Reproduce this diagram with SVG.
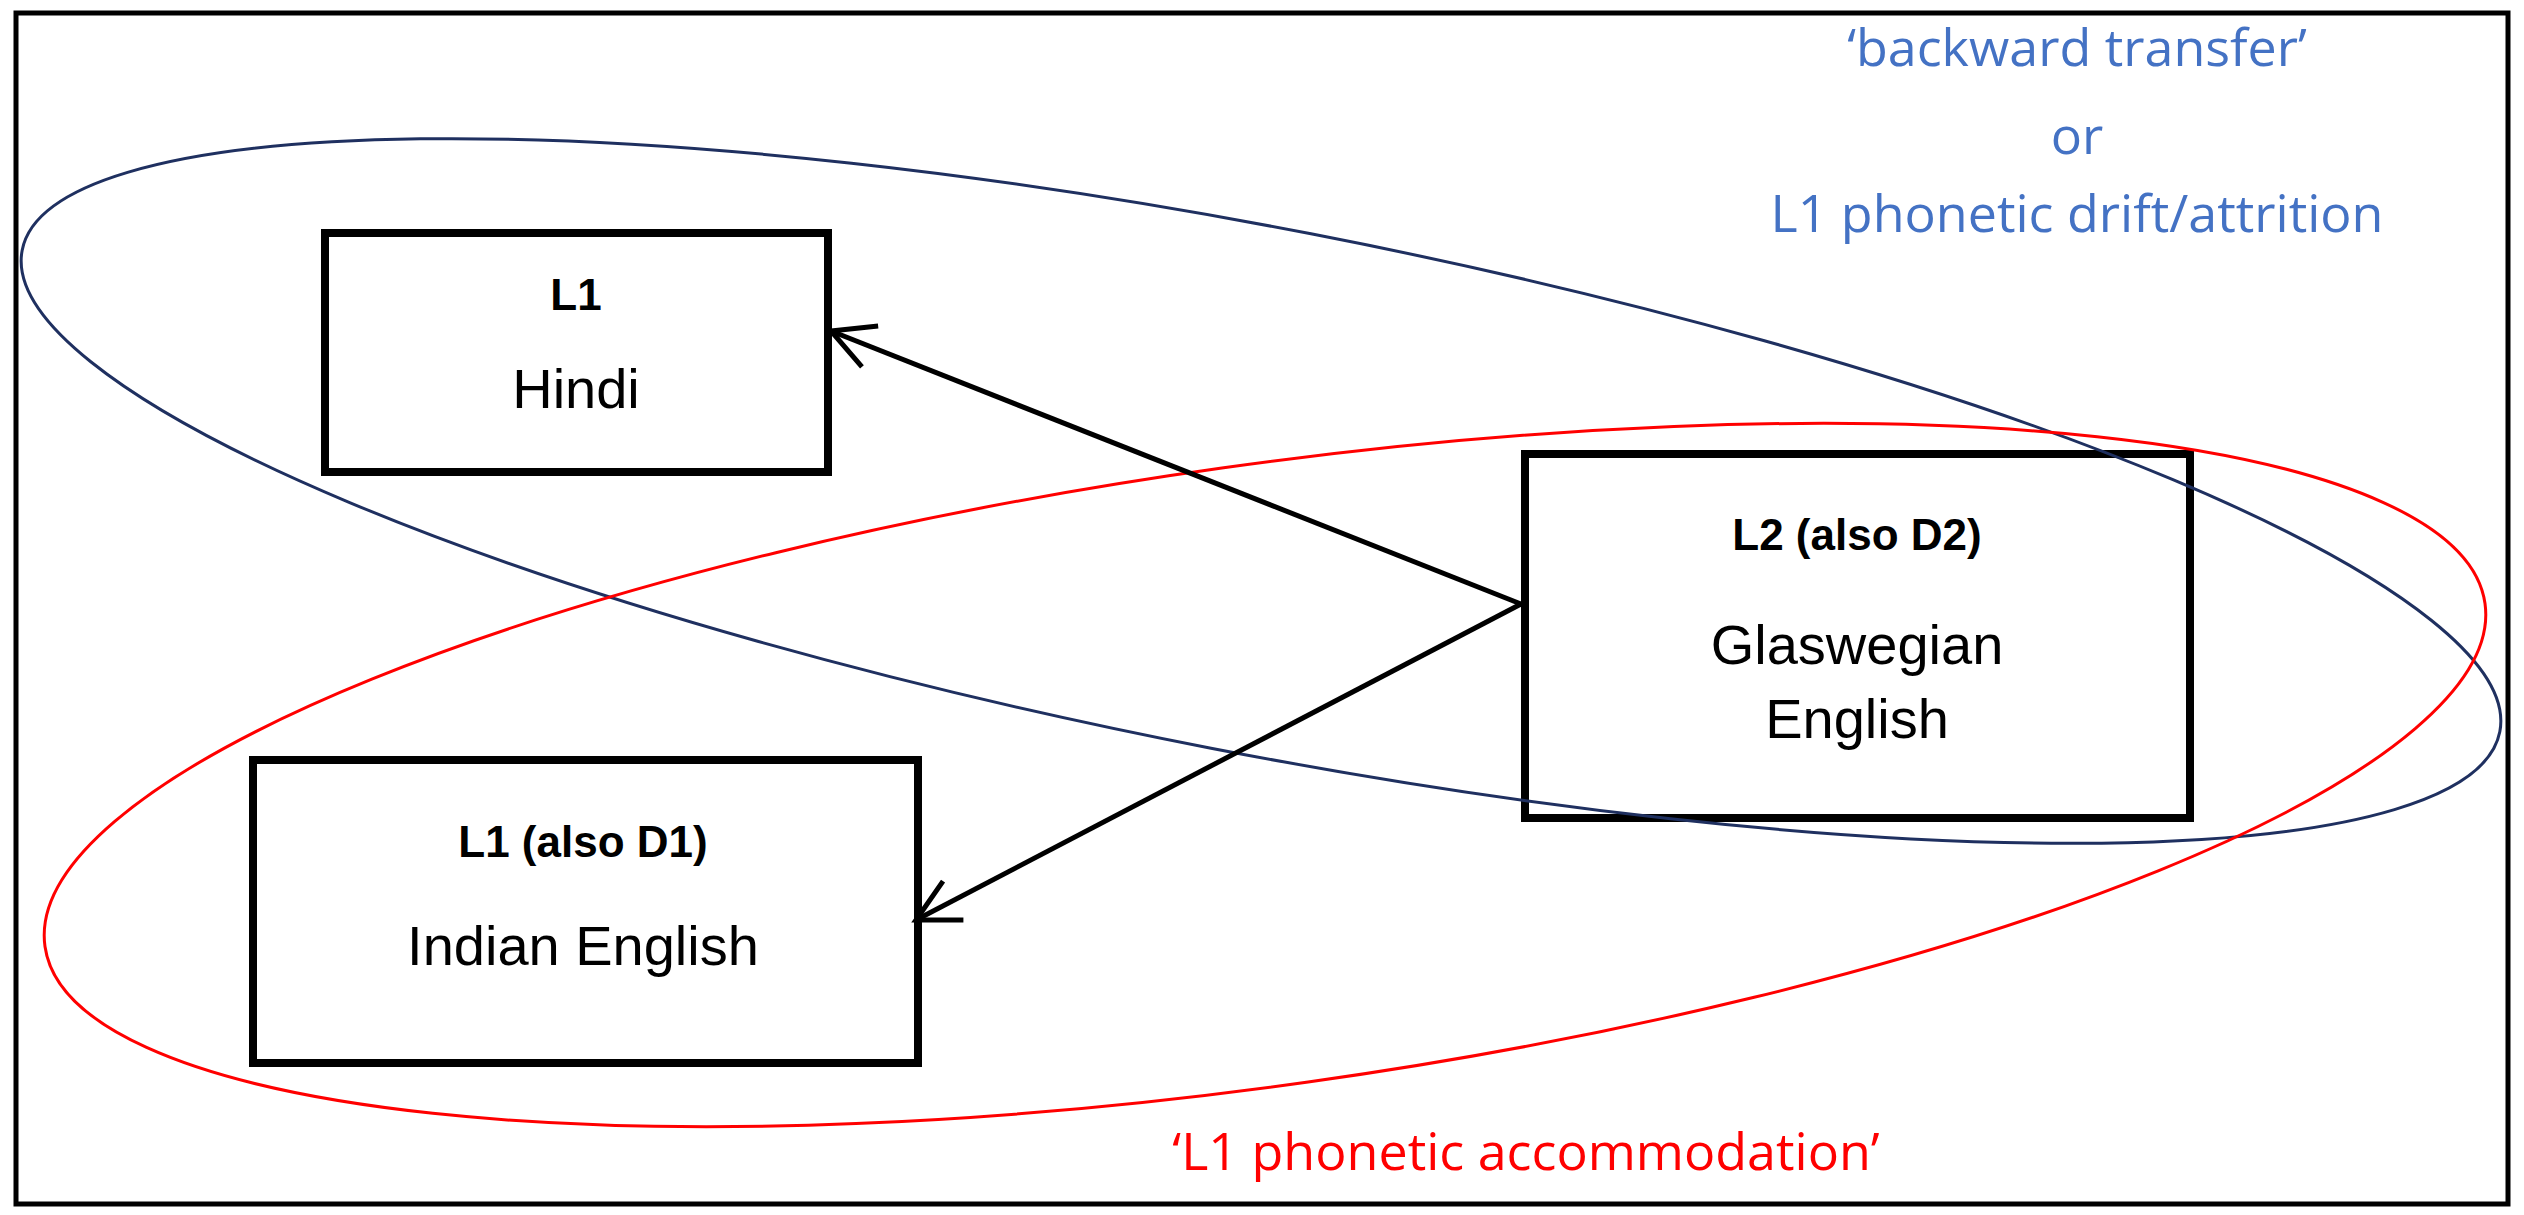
<svg xmlns="http://www.w3.org/2000/svg" width="2524" height="1215" viewBox="0 0 2524 1215">
<style>
.box{fill:#fff;stroke:#000;stroke-width:8}
.t{font-family:"Liberation Sans",Arial,sans-serif;text-anchor:middle;fill:#000}
.b{font-weight:bold;font-size:44px}
.r{font-size:56px}
.c{font-family:"Open Sans","Liberation Sans",sans-serif;text-anchor:middle;font-size:52px}
</style>
<defs>
<marker id="ah" markerUnits="userSpaceOnUse" markerWidth="60" markerHeight="60" refX="46" refY="30" orient="auto">
<path d="M4,8 L46,30 L4,52" fill="none" stroke="#000" stroke-width="5"/>
</marker>
</defs>
<rect x="16" y="13" width="2492" height="1191" fill="#fff" stroke="#000" stroke-width="5"/>
<g id="n_hindi"><rect class="box" x="325" y="233" width="503" height="239"/>
<text class="t b" x="576" y="310">L1</text><text class="t r" x="576" y="408">Hindi</text></g>
<g id="n_glas"><rect class="box" x="1525" y="454" width="665" height="364"/>
<text class="t b" x="1857" y="550">L2 (also D2)</text><text class="t r" x="1857" y="664">Glaswegian</text><text class="t r" x="1857" y="738">English</text></g>
<g id="n_indian"><rect class="box" x="253" y="760" width="665" height="303"/>
<text class="t b" x="583" y="857">L1 (also D1)</text><text class="t r" x="583" y="965">Indian English</text></g>
<g id="connectors" fill="none">
<ellipse cx="1261" cy="491" rx="1262" ry="262" transform="rotate(11 1261 491)" stroke="#1f3060" stroke-width="3"/>
<ellipse cx="1265" cy="775" rx="1232" ry="310" transform="rotate(-8 1265 775)" stroke="#ff0000" stroke-width="3"/>
<line x1="1521" y1="604" x2="831" y2="331" stroke="#000" stroke-width="5" marker-end="url(#ah)"/>
<line x1="1521" y1="604" x2="916" y2="920" stroke="#000" stroke-width="5" marker-end="url(#ah)"/>
</g>
<g id="labels">
<text class="c" x="2077" y="66" fill="#4472c4">‘backward transfer’</text>
<text class="c" x="2077" y="154" fill="#4472c4">or</text>
<text class="c" x="2077" y="232" fill="#4472c4">L1 phonetic drift/attrition</text>
<text class="c" x="1526" y="1170" fill="#ff0000">‘L1 phonetic accommodation’</text>
</g>
</svg>
